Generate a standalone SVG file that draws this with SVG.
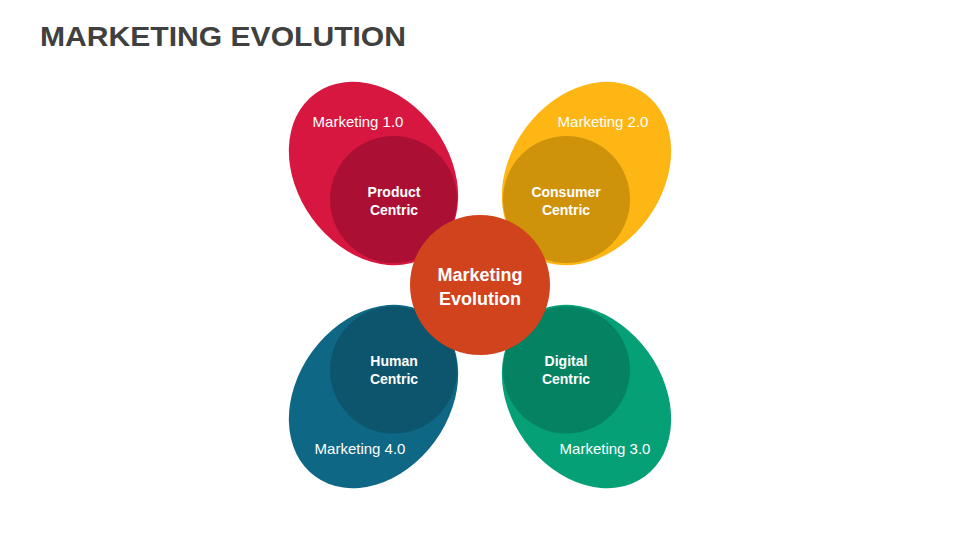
<svg xmlns="http://www.w3.org/2000/svg" width="960" height="540" viewBox="0 0 960 540">
<style>
.lbl{font-family:"Liberation Sans",Arial,sans-serif;font-size:15px;fill:#fff;text-anchor:middle}
.in{font-family:"Liberation Sans",Arial,sans-serif;font-size:14px;font-weight:bold;fill:#fff;text-anchor:middle}
.ctr{font-family:"Liberation Sans",Arial,sans-serif;font-size:18px;font-weight:bold;fill:#fff;text-anchor:middle}
.title{font-family:"Liberation Sans",Arial,sans-serif;font-size:28px;font-weight:bold;fill:#404040}
</style>
<rect width="960" height="540" fill="#fff"/>
<text class="title" x="40" y="46" textLength="366" lengthAdjust="spacingAndGlyphs">MARKETING EVOLUTION</text>
<g id="connectors"/>
<g id="marketing-1">
<ellipse cx="373.5" cy="173.5" rx="99" ry="76" transform="rotate(54 373.5 173.5)" fill="#D7173F"/>
<circle cx="393.5" cy="199.5" r="63.5" fill="#AB1034"/>
<text class="lbl" x="358" y="127">Marketing 1.0</text>
<text class="in" x="394" y="197">Product</text>
<text class="in" x="394" y="215">Centric</text>
</g>
<g id="marketing-2">
<ellipse cx="586.5" cy="173.5" rx="99" ry="76" transform="rotate(-54 586.5 173.5)" fill="#FDB614"/>
<circle cx="566.5" cy="199.5" r="63.5" fill="#CF930B"/>
<text class="lbl" x="603" y="127">Marketing 2.0</text>
<text class="in" x="566" y="197">Consumer</text>
<text class="in" x="566" y="215">Centric</text>
</g>
<g id="marketing-4">
<ellipse cx="373.5" cy="396.5" rx="99" ry="76" transform="rotate(-54 373.5 396.5)" fill="#0E6784"/>
<circle cx="393.5" cy="370" r="63.5" fill="#0C556D"/>
<text class="lbl" x="360" y="454">Marketing 4.0</text>
<text class="in" x="394" y="366">Human</text>
<text class="in" x="394" y="384">Centric</text>
</g>
<g id="marketing-3">
<ellipse cx="586.5" cy="396.5" rx="99" ry="76" transform="rotate(54 586.5 396.5)" fill="#06A077"/>
<circle cx="566.5" cy="370" r="63.5" fill="#058262"/>
<text class="lbl" x="605" y="454">Marketing 3.0</text>
<text class="in" x="566" y="366">Digital</text>
<text class="in" x="566" y="384">Centric</text>
</g>
<g id="center">
<circle cx="480" cy="285" r="70" fill="#D0431C"/>
<text class="ctr" x="480" y="281">Marketing</text>
<text class="ctr" x="480" y="305">Evolution</text>
</g>
</svg>
